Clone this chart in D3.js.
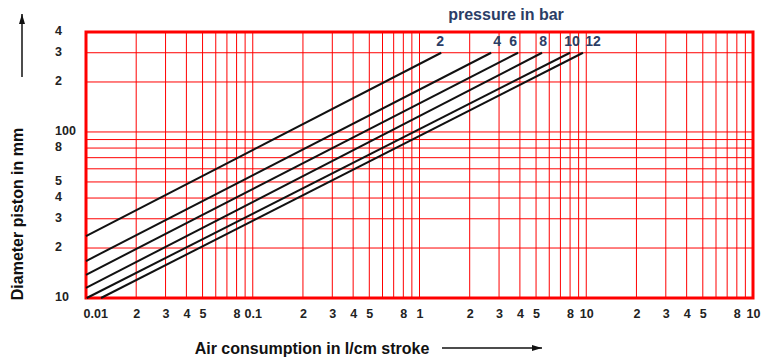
<!DOCTYPE html>
<html>
<head>
<meta charset="utf-8">
<script src="https://cdn.jsdelivr.net/npm/d3@7"></script>
<style>
  body { margin: 0; background: #fff; }
  svg { display: block; font-family: "Liberation Sans", Arial, sans-serif; }
  .tick-label { font-size: 12.5px; font-weight: bold; fill: #222; }
  .title { font-size: 16px; font-weight: bold; fill: #111; }
  .pressure { font-size: 14px; font-weight: bold; fill: #2b3d66; }
</style>
</head>
<body>
<div id="chart"></div>
<script>
// pressure lines (bar), each read as a start and an end point
var pressures = [2, 4, 6, 8, 10, 12];
var airStart = [0.01, 0.01, 0.01, 0.01, 0.0101, 0.0123];
var diaStart = [23.6, 16.7, 13.8, 11.5, 10, 10];
var airEnd = [1.35, 2.69, 3.9, 5.43, 7.99, 9.56];
var diaEnd = [300, 300, 300, 300, 300, 300];

// axis labels
var xTickValues = [0.01, 0.02, 0.03, 0.04, 0.05, 0.08, 0.1, 0.2, 0.3, 0.4, 0.5, 0.8, 1, 2, 3, 4, 5, 8, 10, 20, 30, 40, 50, 80, 100];
var xTickLabels = ["0.01", "2", "3", "4", "5", "8", "0.1", "2", "3", "4", "5", "8", "1", "2", "3", "4", "5", "8", "10", "2", "3", "4", "5", "8", "10"];
var yTickValues = [10, 20, 30, 40, 50, 80, 100, 200, 300, 400];
var yTickLabels = ["10", "2", "3", "4", "5", "8", "100", "2", "3", "4"];

var margin = {top: 32, right: 15, bottom: 65, left: 86};
var width = 768 - margin.left - margin.right,
    height = 363 - margin.top - margin.bottom;

var root = d3.select("#chart").append("svg")
  .attr("width", 768)
  .attr("height", 363);

var svg = root.append("g")
  .attr("transform", "translate(" + margin.left + "," + margin.top + ")");

var x = d3.scaleLog().domain([0.01, 100]).range([0, width]);
var y = d3.scaleLog().domain([10, 400]).range([height, 0]);

// grid
svg.append("g").selectAll("line")
  .data(x.ticks())
  .enter().append("line")
  .attr("x1", function(d) { return x(d); })
  .attr("x2", function(d) { return x(d); })
  .attr("y1", 0)
  .attr("y2", height)
  .attr("stroke", "#ff0000")
  .attr("stroke-width", 1);

svg.append("g").selectAll("line")
  .data(y.ticks())
  .enter().append("line")
  .attr("x1", 0)
  .attr("x2", width)
  .attr("y1", function(d) { return y(d); })
  .attr("y2", function(d) { return y(d); })
  .attr("stroke", "#ff0000")
  .attr("stroke-width", 1);

svg.append("rect")
  .attr("width", width)
  .attr("height", height)
  .attr("fill", "none")
  .attr("stroke", "#ff0000")
  .attr("stroke-width", 3);

// pressure lines
var lineData = pressures.map(function(p, i) {
  return {p: p, pts: [[airStart[i], diaStart[i]], [airEnd[i], diaEnd[i]]]};
});

var line = d3.line()
  .x(function(d) { return x(d[0]); })
  .y(function(d) { return y(d[1]); });

svg.selectAll(".pline")
  .data(lineData)
  .enter().append("path")
  .attr("class", "pline")
  .attr("d", function(d) { return line(d.pts); })
  .attr("fill", "none")
  .attr("stroke", "#111")
  .attr("stroke-width", 2);

// label nudges so the numbers don't collide
var labelNudge = [-1, 6, -5, 1, 2, 10];
svg.selectAll(".pressure")
  .data(lineData)
  .enter().append("text")
  .attr("class", "pressure")
  .attr("x", function(d, i) { return x(d.pts[1][0]) + labelNudge[i]; })
  .attr("y", 14)
  .attr("text-anchor", "middle")
  .text(function(d) { return d.p; });

root.append("text")
  .attr("class", "title")
  .attr("x", 506)
  .attr("y", 20)
  .attr("text-anchor", "middle")
  .style("fill", "#2b3d66")
  .text("pressure in bar");

// axes (labels only)
var xAxis = d3.axisBottom(x)
  .tickValues(xTickValues)
  .tickFormat(function(d, i) { return xTickLabels[i]; })
  .tickSize(0)
  .tickPadding(11);

var gx = svg.append("g")
  .attr("transform", "translate(0," + height + ")")
  .call(xAxis);
gx.select(".domain").remove();
gx.selectAll("text")
  .attr("class", "tick-label")
  .attr("text-anchor", function(d, i) { return i == 0 ? "start" : "middle"; })
  .attr("dx", function(d, i) { return i == 0 ? -3 : 0; });

var yAxis = d3.axisLeft(y)
  .tickValues(yTickValues)
  .tickFormat(function(d, i) { return yTickLabels[i]; })
  .tickSize(0);

var gy = svg.append("g").call(yAxis);
gy.select(".domain").remove();
gy.selectAll("text")
  .attr("class", "tick-label")
  .attr("text-anchor", "start")
  .attr("x", -31)
  .attr("dy", "0.2em");
gx.attr("font-family", null).attr("font-size", null);
gy.attr("font-family", null).attr("font-size", null);

// axis titles with arrows
root.append("text")
  .attr("class", "title")
  .attr("transform", "translate(23,214) rotate(-90)")
  .attr("text-anchor", "middle")
  .text("Diameter piston in mm");

root.append("text")
  .attr("class", "title")
  .attr("x", 312)
  .attr("y", 354)
  .attr("text-anchor", "middle")
  .text("Air consumption in l/cm stroke");

root.append("defs").append("marker")
  .attr("id", "arrow")
  .attr("viewBox", "0 0 10 6")
  .attr("refX", 10)
  .attr("refY", 3)
  .attr("markerWidth", 10)
  .attr("markerHeight", 6)
  .attr("markerUnits", "userSpaceOnUse")
  .attr("orient", "auto")
  .append("path")
  .attr("d", "M0,0L10,3L0,6Z")
  .attr("fill", "#111");

root.append("line")
  .attr("x1", 22).attr("y1", 77)
  .attr("x2", 22).attr("y2", 14)
  .attr("stroke", "#111")
  .attr("stroke-width", 1.5)
  .attr("marker-end", "url(#arrow)");

root.append("line")
  .attr("x1", 442).attr("y1", 348)
  .attr("x2", 542).attr("y2", 348)
  .attr("stroke", "#111")
  .attr("stroke-width", 1.5)
  .attr("marker-end", "url(#arrow)");
</script>
</body>
</html>
